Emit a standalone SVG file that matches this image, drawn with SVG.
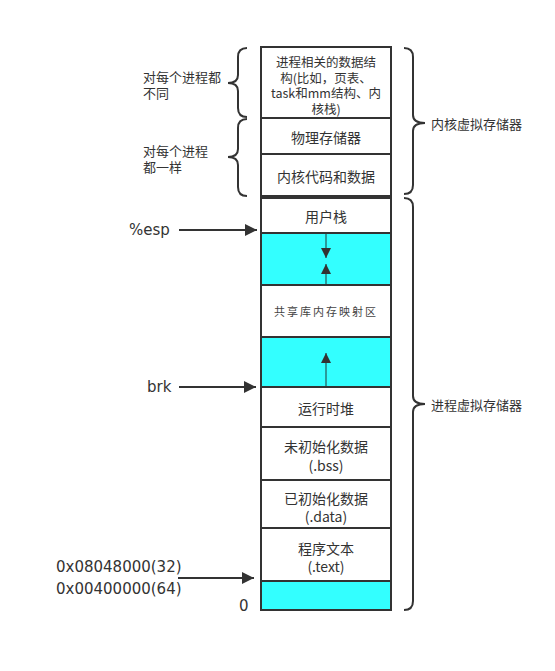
<svg xmlns="http://www.w3.org/2000/svg" width="555" height="671" viewBox="0 0 555 671">
<defs>
<style>
.box{fill:#fff;stroke:#333;stroke-width:2}
.cy{fill:#33ffff;stroke:#333;stroke-width:2}
.t{font-family:"Noto Sans CJK SC","Noto Sans",sans-serif;font-size:14px;fill:#333;text-anchor:middle;dominant-baseline:central}
.ts{font-family:"Noto Sans CJK SC","Noto Sans",sans-serif;font-size:12.5px;fill:#333;text-anchor:middle;dominant-baseline:central}
.tl{font-family:"Noto Sans CJK SC","Noto Sans",sans-serif;font-size:13px;fill:#333;dominant-baseline:central}
.lab{font-family:"DejaVu Sans",sans-serif;font-size:15px;fill:#333;dominant-baseline:central}
.brace{fill:none;stroke:#333;stroke-width:2}
.arr{stroke:#333;stroke-width:2;fill:none}
.inarr{stroke:#2a9a9a;stroke-width:2;fill:none}
</style>
<marker id="ah" viewBox="0 0 10 10" refX="10" refY="5" markerWidth="7" markerHeight="6" orient="auto" markerUnits="strokeWidth">
<path d="M0,0 L10,5 L0,10 z" fill="#333"/>
</marker>
<marker id="ah2" viewBox="0 0 10 10" refX="10" refY="5" markerWidth="5" markerHeight="5" orient="auto" markerUnits="strokeWidth">
<path d="M0,0 L10,5 L0,10 z" fill="#333"/>
</marker>
</defs>
<rect width="555" height="671" fill="#fff"/>

<g id="kernel-proc">
<rect class="box" x="261" y="47" width="130" height="71"/>
<text class="ts" x="326" y="61.5">进程相关的数据结</text>
<text class="ts" x="326" y="77">构(比如，页表、</text>
<text class="ts" x="326" y="92.5">task和mm结构、内</text>
<text class="ts" x="326" y="108">核栈)</text>
</g>
<g id="phys-mem">
<rect class="box" x="261" y="118" width="130" height="36"/>
<text class="t" x="326" y="137">物理存储器</text>
</g>
<g id="kernel-code">
<rect class="box" x="261" y="154" width="130" height="42"/>
<text class="t" x="326" y="176">内核代码和数据</text>
</g>
<g id="user-stack">
<rect class="box" x="261" y="198" width="130" height="35"/>
<text class="t" x="326" y="216">用户栈</text>
</g>
<g id="gap1">
<rect class="cy" x="261" y="233" width="130" height="52"/>
</g>
<g id="shared-lib">
<rect class="box" x="261" y="285" width="130" height="52"/>
<text class="t" x="326" y="311" style="font-size:11px;letter-spacing:2px;fill:#444">共享库内存映射区</text>
</g>
<g id="gap2">
<rect class="cy" x="261" y="337" width="130" height="50"/>
</g>
<g id="heap">
<rect class="box" x="261" y="387" width="130" height="40"/>
<text class="t" x="326" y="408">运行时堆</text>
</g>
<g id="bss">
<rect class="box" x="261" y="427" width="130" height="53"/>
<text class="t" x="326" y="446">未初始化数据</text>
<text class="t" x="326" y="465">(.bss)</text>
</g>
<g id="data">
<rect class="box" x="261" y="480" width="130" height="48"/>
<text class="t" x="326" y="498">已初始化数据</text>
<text class="t" x="326" y="515.5">(.data)</text>
</g>
<g id="text-seg">
<rect class="box" x="261" y="528" width="130" height="53"/>
<text class="t" x="326" y="548">程序文本</text>
<text class="t" x="326" y="566">(.text)</text>
</g>
<g id="bottom">
<rect class="cy" x="261" y="581" width="130" height="29"/>
</g>

<g id="left-labels">
<text class="tl" x="143" y="76">对每个进程都</text>
<text class="tl" x="143" y="92">不同</text>
<text class="tl" x="143" y="150">对每个进程</text>
<text class="tl" x="143" y="166">都一样</text>
<text class="lab" x="129" y="230">%esp</text>
<text class="lab" x="147" y="387">brk</text>
<text class="lab" x="56" y="567">0x08048000(32)</text>
<text class="lab" x="56" y="589">0x00400000(64)</text>
<text class="lab" x="239" y="606">0</text>
<text class="tl" x="431" y="123">内核虚拟存储器</text>
<text class="tl" x="431" y="404">进程虚拟存储器</text>
</g>

<g id="connectors">
<line class="arr" x1="179" y1="230" x2="257" y2="230" marker-end="url(#ah)"/>
<line class="arr" x1="179" y1="387" x2="256" y2="387" marker-end="url(#ah)"/>
<line class="arr" x1="178" y1="578" x2="254" y2="578" marker-end="url(#ah)"/>
<line class="inarr" x1="326" y1="234" x2="326" y2="258" marker-end="url(#ah2)"/>
<line class="inarr" x1="326" y1="284" x2="326" y2="264" marker-end="url(#ah2)"/>
<line class="inarr" x1="326" y1="386" x2="326" y2="353" marker-end="url(#ah2)"/>
<path class="brace" d="M247,48 Q238,48 238,57 L238,75 Q238,83 228,83 Q238,83 238,91 L238,108 Q238,117 247,117"/>
<path class="brace" d="M247,119 Q238,119 238,128 L238,149 Q238,157 228,157 Q238,157 238,165 L238,187 Q238,196 247,196"/>
<path class="brace" d="M404,48 Q413,48 413,57 L413,115 Q413,123 425,123 Q413,123 413,131 L413,185 Q413,194 404,194"/>
<path class="brace" d="M404,198 Q413,198 413,207 L413,396 Q413,404 425,404 Q413,404 413,412 L413,601 Q413,610 404,610"/>
</g>
</svg>
